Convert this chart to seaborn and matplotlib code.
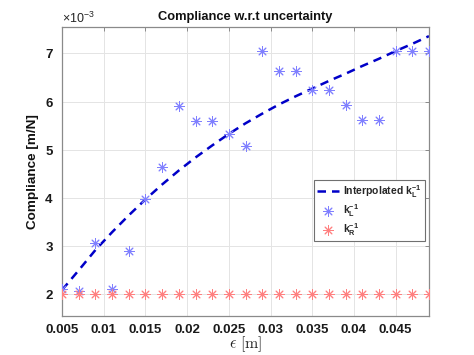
import matplotlib
matplotlib.use("Agg")
import matplotlib.pyplot as plt
import numpy as np
import pandas as pd
import seaborn as sns
from matplotlib.ticker import ScalarFormatter

# values (compliance in 1e-3 m/N)
eps = [0.005, 0.007, 0.009, 0.011, 0.013, 0.015, 0.017, 0.019, 0.021, 0.023, 0.025, 0.027,
       0.029, 0.031, 0.033, 0.035, 0.037, 0.039, 0.041, 0.043, 0.045, 0.047, 0.049]
k_l_inv = [2.10, 2.07, 3.07, 2.11, 2.90, 3.97, 4.65, 5.90, 5.60, 5.60, 5.33, 5.08,
           7.05, 6.63, 6.63, 6.25, 6.25, 5.92, 5.61, 5.61, 7.05, 7.05, 7.05]
k_r_inv = [2.0] * 23
k_l_fit = [2.09, 2.50, 2.92, 3.29, 3.64, 3.97, 4.28, 4.57, 4.84, 5.09, 5.33, 5.55,
           5.75, 5.94, 6.11, 6.27, 6.43, 6.58, 6.74, 6.89, 7.05, 7.20, 7.36]
x_ticks = [0.005, 0.01, 0.015, 0.02, 0.025, 0.03, 0.035, 0.04, 0.045]
y_ticks = [2, 3, 4, 5, 6, 7]

SCALE = 1e-3
BLUE_PTS = "#8080ff"
RED_PTS = "#ff8080"
LINE_COLOR = "#0000c8"

df = pd.DataFrame({
	"eps": eps,
	"kl": np.array(k_l_inv) * SCALE,
	"kr": np.array(k_r_inv) * SCALE,
	"fit": np.array(k_l_fit) * SCALE,
})

sns.set_theme(style="whitegrid")
plt.rcParams["font.family"] = ["Liberation Sans", "DejaVu Sans"]
plt.rcParams["mathtext.fontset"] = "custom"
plt.rcParams["mathtext.rm"] = "Liberation Sans"
plt.rcParams["mathtext.bf"] = "Liberation Sans:bold"
plt.rcParams["mathtext.it"] = "Liberation Sans:italic"

fig = plt.figure(figsize=(4.74, 3.55), dpi=100)
fig.patch.set_facecolor("white")
ax = fig.add_axes([0.131, 0.110, 0.774, 0.814])
ax.set_facecolor("white")

asterisk = (8, 2, 0)
sns.lineplot(data=df, x="eps", y="fit", ax=ax, color=LINE_COLOR, linewidth=1.8,
             dashes=False, label=r"Interpolated k$^{\mathbf{-1}}_{\mathbf{L}}$")
ax.lines[0].set_linestyle((0, (3.4, 2.4)))
sns.scatterplot(data=df, x="eps", y="kl", ax=ax, marker=asterisk, s=48, color=BLUE_PTS,
                linewidth=0.7, edgecolor=BLUE_PTS, label=r"k$^{\mathbf{-1}}_{\mathbf{L}}$", zorder=3)
sns.scatterplot(data=df, x="eps", y="kr", ax=ax, marker=asterisk, s=48, color=RED_PTS,
                linewidth=0.7, edgecolor=RED_PTS, label=r"k$^{\mathbf{-1}}_{\mathbf{R}}$", zorder=3)

ax.set_xlim(0.005, 0.049)
ax.set_ylim(1.55 * SCALE, 7.55 * SCALE)
ax.set_xticks(x_ticks)
ax.set_xticklabels([f"{t:g}" for t in x_ticks])
ax.set_yticks([t * SCALE for t in y_ticks])
fmt = ScalarFormatter(useMathText=True)
fmt.set_powerlimits((-2, 2))
ax.yaxis.set_major_formatter(fmt)
ax.yaxis.get_offset_text().set_fontsize(9)

ax.grid(True, color="#e4e4e4", linewidth=0.7)
for side in ["left", "right", "top", "bottom"]:
	ax.spines[side].set_visible(True)
	ax.spines[side].set_color("#8a8a8a")
	ax.spines[side].set_linewidth(0.9)
ax.tick_params(direction="in", length=3, width=0.7, color="#8a8a8a", top=True, right=True,
               labelsize=9.5, pad=6)
for lab in ax.get_xticklabels() + ax.get_yticklabels():
	lab.set_fontweight("bold")
	lab.set_color("#1a1a1a")

ax.set_title("Compliance w.r.t uncertainty", fontsize=9.3, fontweight="bold", pad=5, color="#111111")
ax.set_ylabel("Compliance [m/N]", fontsize=9.7, fontweight="bold", color="#111111", labelpad=4)
ax.set_xlabel(r"$\epsilon\ [\mathrm{m}]$", fontsize=11.5, math_fontfamily="cm", color="#222222")
ax.xaxis.set_label_coords(0.5, -0.064)

leg = ax.legend(loc="upper left", bbox_to_anchor=(0.687, 0.471), fontsize=7.5, frameon=True,
                fancybox=False, edgecolor="#707070", framealpha=1, borderpad=0.3,
                handlelength=2.1, labelspacing=0.2, handletextpad=0.4, borderaxespad=0)
leg.get_frame().set_linewidth(0.8)
for t in leg.get_texts():
	t.set_fontweight("bold")

fig.savefig("out.png", dpi=100)
